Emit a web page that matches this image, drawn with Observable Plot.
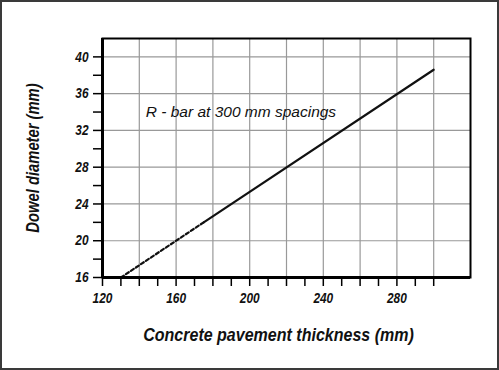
<!DOCTYPE html>
<html>
<head>
<meta charset="utf-8">
<script src="https://cdn.jsdelivr.net/npm/d3@7"></script>
<script src="https://cdn.jsdelivr.net/npm/@observablehq/plot@0.6"></script>
<style>
  html, body { margin: 0; padding: 0; background: #fff; }
  #chart svg { display: block; outline: 2px solid #3a3a3a; outline-offset: -2px; }
</style>
</head>
<body>
<div id="chart"></div>
<script>
// Data
const dashedThickness = [130, 175];
const dashedDiameter = [16, 22];
const solidThickness = [175, 300];
const solidDiameter = [22, 38.6];

const xGridValues = [140, 160, 180, 200, 220, 240, 260, 280, 300];
const xTickValues = [120, 130, 140, 150, 160, 170, 180, 190, 200, 210, 220, 230, 240, 250, 260, 270, 280, 290, 300];
const xLabelValues = [120, 160, 200, 240, 280];
const yGridValues = [20, 24, 28, 32, 36, 40];
const yTickValues = [16, 18, 20, 22, 24, 26, 28, 30, 32, 34, 36, 38, 40];
const yLabelValues = [16, 20, 24, 28, 32, 36, 40];

const note = "R - bar at 300 mm spacings";
const noteX = [143.5];
const noteY = [34];
const xTitle = "Concrete pavement thickness (mm)";
const yTitle = "Dowel diameter (mm)";

const dashed = dashedThickness.map((t, i) => ({t, d: dashedDiameter[i]}));
const solid = solidThickness.map((t, i) => ({t, d: solidDiameter[i]}));

const font = "'Liberation Sans', Arial, sans-serif";

const chart = Plot.plot({
  width: 499,
  height: 370,
  marginLeft: 102,
  marginRight: 29,
  marginTop: 38,
  marginBottom: 93,
  style: {background: "#fff", fontFamily: font},
  x: {domain: [120, 320], label: null},
  y: {domain: [16, 42], label: null},
  marks: [
    Plot.gridX(xGridValues, {stroke: "#999", strokeOpacity: 1, strokeWidth: 1.2}),
    Plot.gridY(yGridValues, {stroke: "#999", strokeOpacity: 1, strokeWidth: 1.2}),
    Plot.axisX(xTickValues, {tickSize: 9, tickFormat: () => "", stroke: "#000", strokeWidth: 1.5, label: null}),
    Plot.axisX(xLabelValues, {tickSize: 0, tickPadding: 15, fontSize: 14.5, fontWeight: "bold", fontStyle: "italic", fill: "#111", tickFormat: d => String(d), label: null}),
    Plot.axisY(yTickValues, {tickSize: 9, tickFormat: () => "", stroke: "#000", strokeWidth: 1.5, label: null}),
    Plot.axisY(yLabelValues, {tickSize: 0, tickPadding: 14, fontSize: 14.5, fontWeight: "bold", fontStyle: "italic", fill: "#111", tickFormat: d => String(d), label: null}),
    Plot.line(dashed, {x: "t", y: "d", stroke: "#111", strokeWidth: 2.2, strokeDasharray: "3.5,2.5"}),
    Plot.line(solid, {x: "t", y: "d", stroke: "#111", strokeWidth: 2.2}),
    Plot.text([note], {x: noteX, y: noteY, text: d => d, textAnchor: "start", fontSize: 15.5, fontStyle: "italic", fill: "#111"}),
    Plot.text([xTitle], {frameAnchor: "bottom", textAnchor: "middle", text: d => d, dy: 63, dx: -8, fontSize: 18, fontWeight: "bold", fontStyle: "italic", fill: "#111", ariaLabel: "x-title"}),
    Plot.text([yTitle], {frameAnchor: "left", textAnchor: "middle", text: d => d, rotate: -90, dx: -69, fontSize: 18, fontWeight: "bold", fontStyle: "italic", fill: "#111", ariaLabel: "y-title"}),
    Plot.frame({stroke: "#000", strokeWidth: 2}),
    Plot.ruleX([120], {stroke: "#000", strokeWidth: 3}),
    Plot.ruleY([16], {stroke: "#000", strokeWidth: 3})
  ]
});

document.getElementById("chart").append(chart);

// Narrow the bold (Arial Narrow-like) labels
chart.querySelectorAll("text").forEach(t => {
  const g = t.closest("g");
  if (g && g.getAttribute("font-weight") === "bold") {
    const factor = t.textContent === xTitle ? 0.89 : 0.82;
    const len = t.getComputedTextLength();
    t.setAttribute("textLength", (len * factor).toFixed(1));
    t.setAttribute("lengthAdjust", "spacingAndGlyphs");
  }
});
</script>
</body>
</html>
